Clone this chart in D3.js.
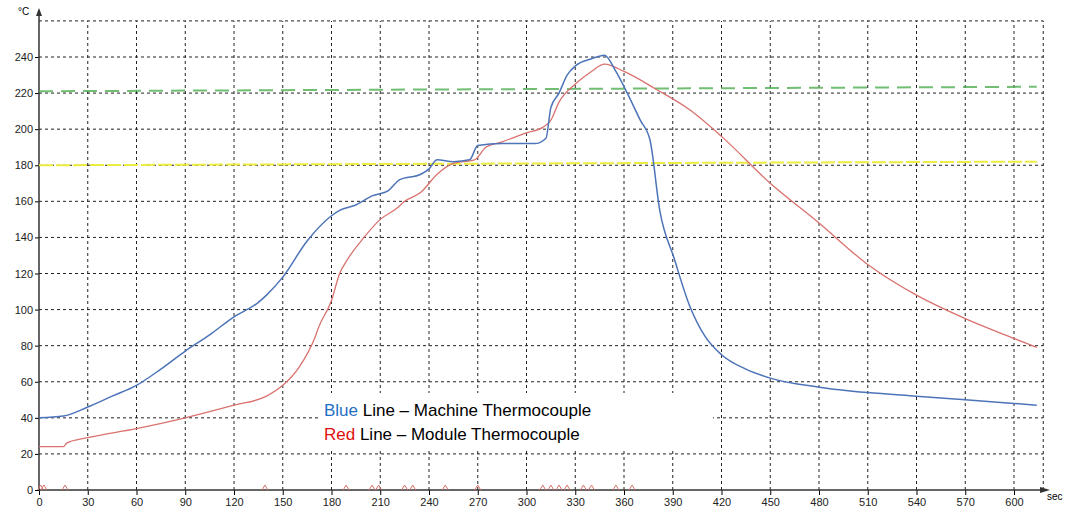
<!DOCTYPE html><html><head><meta charset="utf-8"><script src="https://cdn.jsdelivr.net/npm/d3@7"></script>
<style>body{margin:0;background:#fff}text{font-family:Arial,"Liberation Sans",sans-serif}</style></head><body><svg id="c" width="1069" height="514"></svg><script>
const xTicks=d3.range(0,601,30), yTicks=d3.range(0,241,20);
const blueT=[0,15,30,45,60,75,90,105,120,135,140,150,165,180,185,195,205,215,222,235,240,245,255,265,270,285,305,312,315,320,325,330,340,348,355,362,370,376,382,391,400,410,420,435,450,480,510,540,570,600,614];
const blueV=[40,41,46,52,58,67,77,86,96,104,108,118,138,152,155,158,163,166,172,175,178,183,182,183,191,192,192,195,212,220,230,235,239,241,232,220,205,194,155,128,103,85,75,67,62,57,54,52,50,48,47];
const redT=[0,15,17,30,60,90,120,140,150,160,170,172,180,185,190,200,210,220,225,235,245,255,268,275,285,300,310,315,320,330,340,348,360,380,400,420,450,480,510,540,570,600,614];
const redV=[24,24,26,29,34,40,47,52,58,68,85,90,105,120,128,140,150,156,160,165,175,181,183,190,193,198,201,205,215,225,232,236,232,222,211,196,170,148,125,108,95,84,79];
const markersT=[1,3,16,139,189,205,209,225,230,250,270,310,315,320,325,335,340,355,365];
const svg=d3.select("#c");
const x=d3.scaleLinear().domain([0,600]).range([39,1014]);
const y=d3.scaleLinear().domain([0,240]).range([490,57]);
const g=svg.append("g");
xTicks.concat([618]).slice(1).forEach(t=>g.append("line").attr("x1",x(t)).attr("x2",x(t)).attr("y1",y(0)).attr("y2",y(260)).attr("stroke","#222").attr("stroke-dasharray","3,3"));
yTicks.concat([260]).slice(1).forEach(v=>g.append("line").attr("x1",x(0)).attr("x2",x(618)).attr("y1",y(v)).attr("y2",y(v)).attr("stroke","#222").attr("stroke-dasharray","3,3"));
const ax=svg.append("g").attr("transform",`translate(0,${y(0)})`).call(d3.axisBottom(x).tickValues(xTicks).tickSize(5).tickPadding(3));
ax.select(".domain").remove();
ax.selectAll("text").attr("font-size",11).attr("fill","#222");
const ay=svg.append("g").attr("transform",`translate(${x(0)},0)`).call(d3.axisLeft(y).tickValues(yTicks).tickSize(4).tickPadding(2));
ay.select(".domain").remove();
ay.selectAll("text").attr("font-size",11).attr("fill","#222");
svg.append("line").attr("x1",x(0)).attr("x2",1042).attr("y1",y(0)).attr("y2",y(0)).attr("stroke","#333").attr("stroke-width",1.5);
svg.append("line").attr("x1",x(0)).attr("x2",x(0)).attr("y1",y(0)).attr("y2",10).attr("stroke","#333").attr("stroke-width",1.5);
svg.append("path").attr("d",`M${x(0)-3},16L${x(0)},8L${x(0)+3},16Z`).attr("fill","#333");
svg.append("path").attr("d",`M1040,${y(0)-3}L1050,${y(0)}L1040,${y(0)+3}Z`).attr("fill","#333");
svg.append("text").attr("x",18).attr("y",15).attr("font-size",10).text("°C");
svg.append("text").attr("x",1047).attr("y",500).attr("font-size",10).text("sec");
svg.append("line").attr("x1",x(0)).attr("x2",x(614)).attr("y1",y(221)).attr("y2",y(223.5)).attr("stroke","#4caf50").attr("stroke-width",2).attr("stroke-dasharray","14,8").attr("opacity",0.8);
svg.append("line").attr("x1",x(0)).attr("x2",x(614)).attr("y1",y(180)).attr("y2",y(182)).attr("stroke","#eded40").attr("stroke-width",2).attr("stroke-dasharray","14,3");
const line=d3.line().x(d=>x(d[0])).y(d=>y(d[1])).curve(d3.curveMonotoneX);
svg.append("path").attr("d",line(redT.map((t,i)=>[t,redV[i]]))).attr("fill","none").attr("stroke","#d9726e").attr("stroke-width",1.3);
svg.append("path").attr("d",line(blueT.map((t,i)=>[t,blueV[i]]))).attr("fill","none").attr("stroke","#4d74b8").attr("stroke-width",1.5);
svg.selectAll(".m").data(markersT).join("path").attr("d",d=>`M${x(d)-3},${y(0)}L${x(d)},${y(0)-5}L${x(d)+3},${y(0)}`).attr("fill","none").attr("stroke","#d9726e");
svg.append("rect").attr("x",318).attr("y",393).attr("width",395).attr("height",58).attr("fill","#fff");
const l1=svg.append("text").attr("x",324).attr("y",416).attr("font-size",17).attr("font-family","Calibri,Carlito,'Liberation Sans',sans-serif");
l1.append("tspan").attr("fill","#1f6fc5").text("Blue");l1.append("tspan").attr("fill","#000").text(" Line – Machine Thermocouple");
const l2=svg.append("text").attr("x",324).attr("y",440).attr("font-size",17).attr("font-family","Calibri,Carlito,'Liberation Sans',sans-serif");
l2.append("tspan").attr("fill","#e01010").text("Red");l2.append("tspan").attr("fill","#000").text(" Line – Module Thermocouple");
</script></body></html>
